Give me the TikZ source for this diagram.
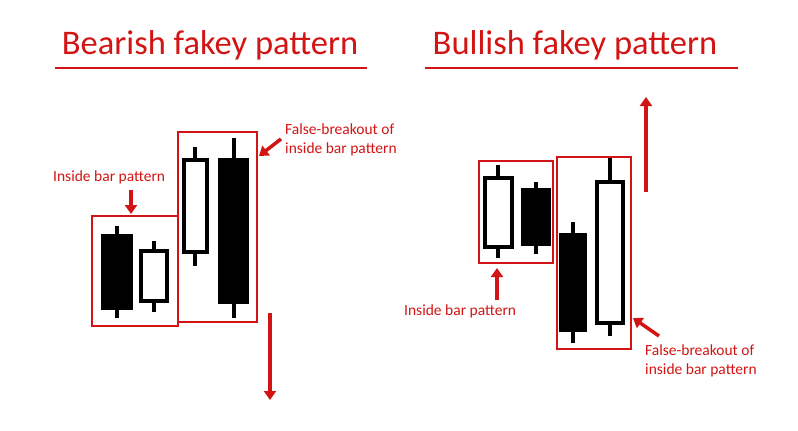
\documentclass[tikz,border=0pt]{standalone}
\usepackage{fontspec}
\setmainfont{Carlito}
\usetikzlibrary{arrows.meta}
\definecolor{fred}{RGB}{210,20,20}
\begin{document}
\begin{tikzpicture}[x=1pt,y=-1pt,
  wk/.style={line width=3.5pt},
  wb/.style={draw=black,fill=white,line width=3.5pt},
  bb/.style={draw=black,fill=black,line width=3.5pt},
  rbox/.style={draw=fred,color=fred,line width=1.2pt},
  rarr/.style={draw=fred,line width=3.5pt,-{Triangle[length=9pt,width=12pt]}},
  lab/.style={text=fred,font=\fontsize{15.5}{19}\selectfont,align=left,anchor=west,inner sep=0pt},
  ttl/.style={text=fred,font=\fontsize{34.5}{40}\selectfont,inner sep=0pt}]
\useasboundingbox (0,0) rectangle (798,431);
% titles
\node[ttl] (t1) at (210,45) {Bearish fakey pattern};
\draw[fred,line width=1.5pt] (55,68) -- (367,68);
\node[ttl] (t2) at (575,45) {Bullish fakey pattern};
\draw[fred,line width=1.5pt] (425,68) -- (738,68);
% left boxes
\draw[rbox] (92,216) rectangle (178,326);
\draw[rbox] (178,132) rectangle (257,322);
\coordinate (b1t) at (131,214);
\coordinate (b2r) at (259,156);
% left candles
\draw[wk] (117,226) -- (117,318); \draw[bb] (103,236) rectangle (131,308);
\draw[wk] (154,241) -- (154,312); \draw[wb] (141,251) rectangle (167,301);
\draw[wk] (195,147) -- (195,266); \draw[wb] (184,160) rectangle (207,252);
\draw[wk] (234,138) -- (234,318); \draw[bb] (220,160) rectangle (247,302);
% left labels and arrows
\node[lab] (l1) at (53,177) {Inside bar pattern};
\coordinate (a1s) at (131,190);
\draw[rarr] (a1s) -- (b1t);
\node[lab] (l2) at (285,140) {False-breakout of\\inside bar pattern};
\coordinate (a2s) at (281,139);
\draw[rarr] (a2s) -- (b2r);
\coordinate (d1) at (270,313); \coordinate (d2) at (270,400);
\draw[rarr] (d1) -- (d2);
% right candles
\draw[wk] (498,165) -- (498,258); \draw[wb] (485,178) rectangle (512,247);
\draw[wk] (536,182) -- (536,254); \draw[bb] (523,190) rectangle (549,244);
\draw[wk] (573,222) -- (573,343); \draw[bb] (561,235) rectangle (585,330);
\draw[wk] (610,158) -- (610,336); \draw[wb] (597,182) rectangle (623,323);
% right boxes
\draw[rbox] (479,161) rectangle (553,263);
\draw[rbox] (557,157) rectangle (631,349);
% right arrows
\coordinate (u1) at (646,192); \coordinate (u2) at (646,97);
\draw[rarr] (u1) -- (u2);
\coordinate (a3s) at (497,300); \coordinate (a3e) at (497,268);
\draw[rarr] (a3s) -- (a3e);
\node[lab] (l3) at (404,311) {Inside bar pattern};
\coordinate (a4s) at (659,336); \coordinate (a4e) at (633,318);
\draw[rarr] (a4s) -- (a4e);
\node[lab] (l4) at (645,361) {False-breakout of\\inside bar pattern};
\end{tikzpicture}
\end{document}
